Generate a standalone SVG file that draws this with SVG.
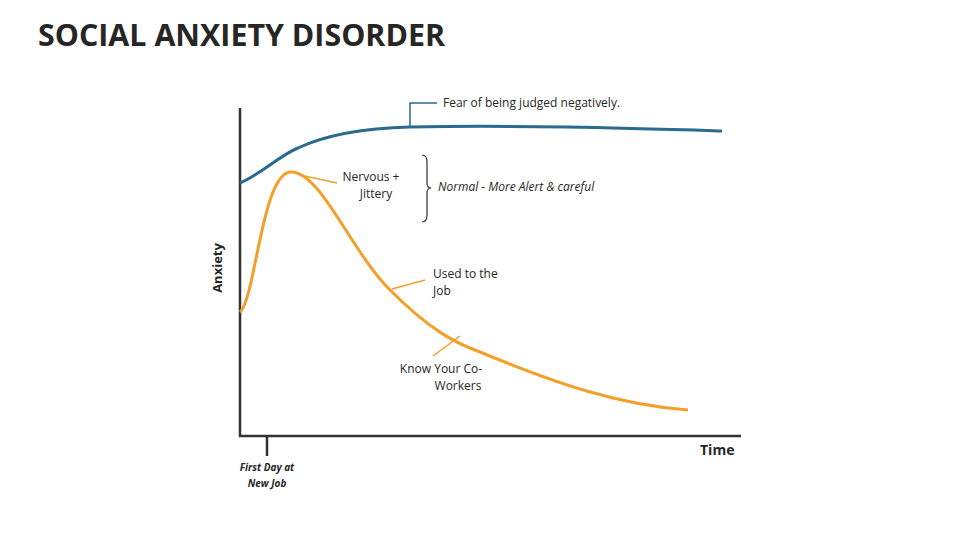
<svg xmlns="http://www.w3.org/2000/svg" width="960" height="540" viewBox="0 0 960 540">
<style>
text{font-family:"Open Sans","Liberation Sans",sans-serif;fill:#262626}
.lbl{font-size:12px}
.or{stroke:#F2A02A;fill:none;stroke-width:3}
.ol{stroke:#F2A02A;fill:none;stroke-width:1.5}
.bl{stroke:#2A6A8E;fill:none}
.ax{stroke:#333;stroke-width:2.5;fill:none}
</style>
<rect width="960" height="540" fill="#fff"/>
<text x="38" y="46" font-size="30" font-weight="bold" fill="#3a3a3a" textLength="407" lengthAdjust="spacingAndGlyphs">SOCIAL ANXIETY DISORDER</text>
<g id="axes">
<path class="ax" d="M240,108 V436 H741 M267,436 V456"/>
<text x="227" y="273" font-size="13" font-weight="bold" text-anchor="middle" transform="rotate(-90 222 273)">Anxiety</text>
<text x="700" y="455" font-size="14" font-weight="bold">Time</text>
<text x="267" y="471" font-size="10" font-weight="bold" font-style="italic" text-anchor="middle">First Day at</text>
<text x="267" y="487" font-size="10" font-weight="bold" font-style="italic" text-anchor="middle">New Job</text>
</g>
<g id="connectors">
<path class="bl" stroke-width="3" d="M240,183 C260,175 280,155 298,148 C330,133 370,128 410,127 C520,125 620,128 722,131"/>
<path class="bl" stroke-width="1.5" d="M410,127 V103 H437"/>
<path class="or" d="M240,312 C255,300 262,175 290,172 C320,170 350,250 390,290 C430,330 455,343 480,352 C560,385 620,405 688,410"/>
<path class="ol" d="M300,175 L337,183 M392,289 L425,280 M433,356 L460,336"/>
<path fill="none" stroke="#333" stroke-width="1.2" d="M422,155 Q427,155 427,162 V183 Q427,188 431,188 Q427,188 427,193 V215 Q427,222 422,222"/>
</g>
<g id="blue-label"><text class="lbl" x="443" y="107">Fear of being judged negatively.</text></g>
<g id="nervous"><text class="lbl" x="371" y="181" text-anchor="middle">Nervous +</text><text class="lbl" x="376" y="198" text-anchor="middle">Jittery</text></g>
<g id="normal"><text class="lbl" x="438" y="191" font-style="italic">Normal - More Alert  &amp; careful</text></g>
<g id="used"><text class="lbl" x="433" y="278">Used to the</text><text class="lbl" x="433" y="295">Job</text></g>
<g id="know"><text class="lbl" x="441" y="373" text-anchor="middle">Know Your Co-</text><text class="lbl" x="458" y="390" text-anchor="middle">Workers</text></g>
</svg>
